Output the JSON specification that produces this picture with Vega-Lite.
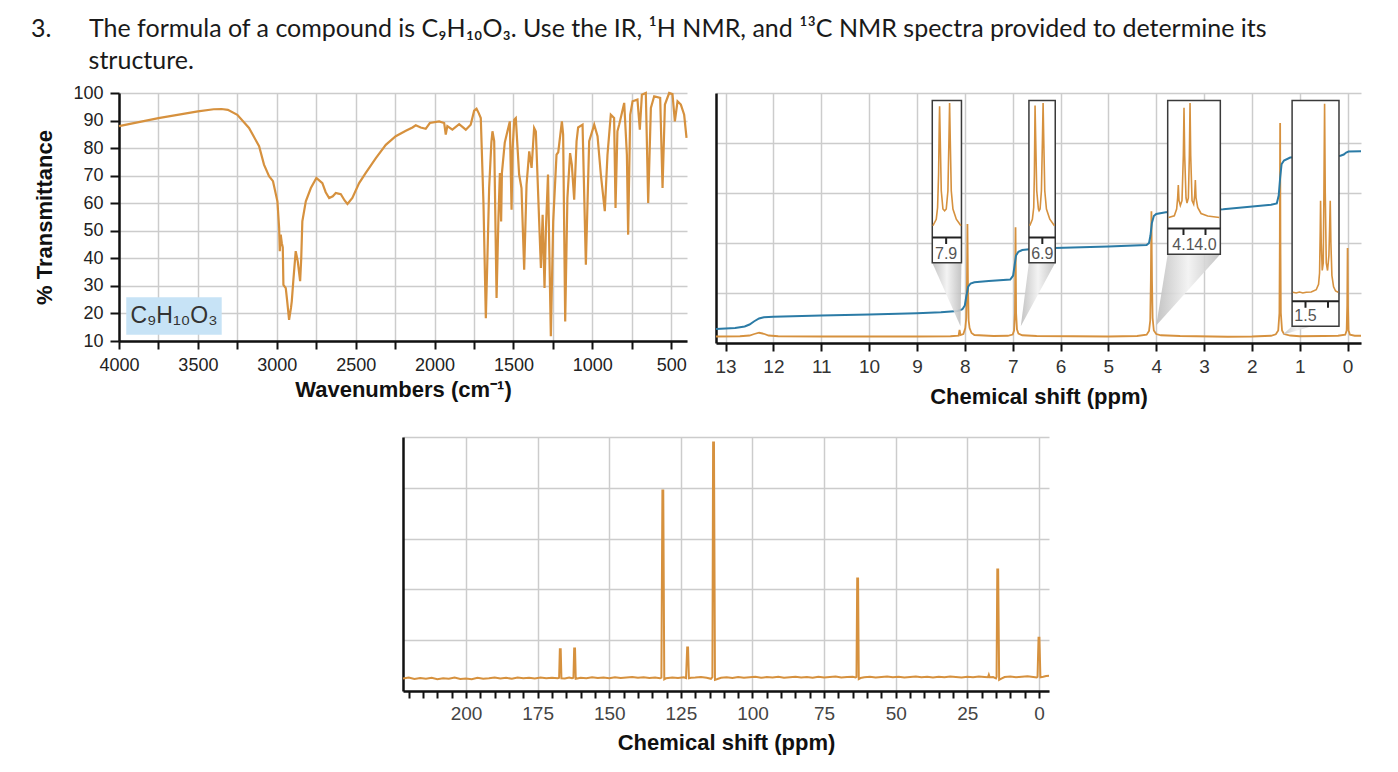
{
"$schema": "https://vega.github.io/schema/vega-lite/v6.json",
"background": "white",
"padding": {"left": 30, "top": 17, "right": 5, "bottom": 5},
"title": {"text": ["3.\u00a0\u00a0\u00a0\u00a0\u00a0\u00a0The formula of a compound is C₉H₁₀O₃. Use the IR, ¹H NMR, and ¹³C NMR spectra provided to determine its", "\u200b\u00a0\u00a0\u00a0\u00a0\u00a0\u00a0\u00a0\u00a0\u00a0structure."], "anchor": "start", "frame": "bounds", "font": "Lato", "fontSize": 25, "fontWeight": "normal", "color": "#1a1a1a", "lineHeight": 32, "offset": 10, "dx": -3},
"spacing": 30,
"datasets": {
"ir": [{"x":4000,"y":88},{"x":3750,"y":90.9},{"x":3500,"y":93.3},{"x":3400,"y":94.1},{"x":3350,"y":94.2},{"x":3310,"y":93.9},{"x":3250,"y":92.1},{"x":3176,"y":87.3},{"x":3112,"y":80.7},{"x":3081,"y":74},{"x":3049,"y":69.8},{"x":3024,"y":68},{"x":2996,"y":60.7},{"x":2985,"y":51},{"x":2981,"y":42.6},{"x":2975,"y":48.6},{"x":2968,"y":45.5},{"x":2962,"y":44},{"x":2958,"y":30.4},{"x":2943,"y":29.2},{"x":2935,"y":25},{"x":2922,"y":17.7},{"x":2910,"y":22},{"x":2905,"y":24.4},{"x":2895,"y":32},{"x":2880,"y":42.6},{"x":2867,"y":38.9},{"x":2852,"y":31.7},{"x":2845,"y":40},{"x":2838,"y":53.4},{"x":2816,"y":60.7},{"x":2784,"y":65.5},{"x":2749,"y":69.2},{"x":2735,"y":68.5},{"x":2711,"y":67.3},{"x":2690,"y":64},{"x":2668,"y":61.9},{"x":2645,"y":62.5},{"x":2626,"y":63.7},{"x":2610,"y":63.5},{"x":2594,"y":63.3},{"x":2570,"y":61},{"x":2552,"y":59.7},{"x":2521,"y":61.9},{"x":2478,"y":67.3},{"x":2436,"y":71},{"x":2372,"y":76.4},{"x":2309,"y":81.2},{"x":2246,"y":84.3},{"x":2182,"y":86.3},{"x":2140,"y":87.5},{"x":2119,"y":88.3},{"x":2088,"y":87.5},{"x":2056,"y":87},{"x":2030,"y":89.1},{"x":1971,"y":89.7},{"x":1939,"y":89.1},{"x":1929,"y":84.9},{"x":1919,"y":88},{"x":1887,"y":86.7},{"x":1844,"y":88.7},{"x":1802,"y":86.7},{"x":1771,"y":88.5},{"x":1749,"y":93.6},{"x":1734,"y":94.3},{"x":1720,"y":92.7},{"x":1707,"y":90.9},{"x":1690,"y":60},{"x":1675,"y":18.3},{"x":1665,"y":40},{"x":1654,"y":65.5},{"x":1640,"y":82},{"x":1633,"y":86.1},{"x":1622,"y":82.5},{"x":1607,"y":25.6},{"x":1595,"y":55},{"x":1586,"y":71},{"x":1578,"y":53.4},{"x":1573,"y":71},{"x":1555,"y":82},{"x":1538,"y":86.1},{"x":1523,"y":89.7},{"x":1512,"y":57.6},{"x":1505,"y":80},{"x":1495,"y":90.3},{"x":1485,"y":90.9},{"x":1464,"y":70.4},{"x":1449,"y":65.5},{"x":1432,"y":35.9},{"x":1417,"y":66.7},{"x":1400,"y":78.8},{"x":1385,"y":72.8},{"x":1369,"y":87.3},{"x":1358,"y":86},{"x":1337,"y":53.4},{"x":1326,"y":36.5},{"x":1315,"y":55.8},{"x":1303,"y":29.2},{"x":1294,"y":51},{"x":1281,"y":70.4},{"x":1263,"y":11.7},{"x":1248,"y":53.4},{"x":1227,"y":77.6},{"x":1216,"y":78.5},{"x":1193,"y":89.7},{"x":1185,"y":84.9},{"x":1172,"y":17.1},{"x":1158,"y":61.9},{"x":1141,"y":78.2},{"x":1130,"y":74},{"x":1115,"y":61.3},{"x":1100,"y":82.5},{"x":1090,"y":87.5},{"x":1062,"y":88.5},{"x":1041,"y":37.7},{"x":1020,"y":82.5},{"x":988,"y":88.5},{"x":967,"y":84.3},{"x":946,"y":70.4},{"x":921,"y":57.1},{"x":904,"y":77.6},{"x":883,"y":92.1},{"x":862,"y":90.9},{"x":853,"y":58.3},{"x":841,"y":86.1},{"x":830,"y":88.5},{"x":798,"y":96.4},{"x":781,"y":77.6},{"x":773,"y":48.6},{"x":760,"y":92.1},{"x":745,"y":97},{"x":714,"y":97.6},{"x":699,"y":86.7},{"x":686,"y":99.4},{"x":661,"y":100},{"x":646,"y":60.1},{"x":629,"y":94.6},{"x":608,"y":98.8},{"x":570,"y":98.2},{"x":555,"y":65.5},{"x":540,"y":95.8},{"x":513,"y":100},{"x":492,"y":99.6},{"x":477,"y":89.7},{"x":460,"y":97},{"x":439,"y":95.8},{"x":418,"y":92.1},{"x":403,"y":83.7}],
"ir_box": [{"x":3954,"x2":3349,"y":12.3,"y2":25.9}],
"ir_lab": [{"x":3651,"y":19.1,"t":"C₉H₁₀O₃"}],
"h_spec": [{"x":13.2,"y":2.6},{"x":12.7,"y":2.7},{"x":12.5,"y":3.0},{"x":12.4,"y":3.6},{"x":12.3,"y":4.1},{"x":12.2,"y":3.7},{"x":12.1,"y":3.0},{"x":11.9,"y":2.7},{"x":11,"y":2.6},{"x":10,"y":2.6},{"x":9,"y":2.6},{"x":8.3,"y":2.7},{"x":8.13,"y":2.9},{"x":8.11,"y":5.2},{"x":8.09,"y":3.2},{"x":8.03,"y":3.6},{"x":7.99,"y":6},{"x":7.97,"y":10},{"x":7.955,"y":25},{"x":7.945,"y":47.6},{"x":7.935,"y":25},{"x":7.92,"y":9},{"x":7.9,"y":6},{"x":7.86,"y":4},{"x":7.8,"y":3.2},{"x":7.4,"y":2.8},{"x":7.1,"y":2.9},{"x":7.0,"y":3.4},{"x":6.97,"y":5},{"x":6.952,"y":12},{"x":6.94,"y":46.3},{"x":6.928,"y":12},{"x":6.91,"y":5.5},{"x":6.88,"y":3.8},{"x":6.8,"y":3.1},{"x":6.5,"y":2.8},{"x":5,"y":2.6},{"x":4.4,"y":2.8},{"x":4.2,"y":3.3},{"x":4.15,"y":4.8},{"x":4.125,"y":9},{"x":4.112,"y":25},{"x":4.1,"y":52.7},{"x":4.088,"y":25},{"x":4.075,"y":10},{"x":4.05,"y":5},{"x":4.0,"y":3.6},{"x":3.9,"y":3.1},{"x":3.5,"y":2.8},{"x":2.5,"y":2.5},{"x":2,"y":2.6},{"x":1.6,"y":2.9},{"x":1.5,"y":3.5},{"x":1.45,"y":5},{"x":1.425,"y":12},{"x":1.417,"y":40},{"x":1.41,"y":88},{"x":1.403,"y":40},{"x":1.395,"y":12},{"x":1.37,"y":5},{"x":1.33,"y":3.6},{"x":1.2,"y":3.0},{"x":1.0,"y":2.7},{"x":0.5,"y":2.8},{"x":0.2,"y":2.9},{"x":0.05,"y":3.3},{"x":0.02,"y":5},{"x":0.008,"y":15},{"x":0,"y":38},{"x":-0.008,"y":15},{"x":-0.02,"y":5},{"x":-0.05,"y":3.3},{"x":-0.15,"y":2.9},{"x":-0.28,"y":2.9}],
"h_int": [{"x":13.2,"y":5.6},{"x":12.8,"y":6.0},{"x":12.6,"y":6.6},{"x":12.5,"y":7.4},{"x":12.4,"y":8.7},{"x":12.3,"y":9.8},{"x":12.2,"y":10.3},{"x":12.0,"y":10.5},{"x":11,"y":11.0},{"x":10,"y":11.4},{"x":9,"y":11.9},{"x":8.5,"y":12.3},{"x":8.15,"y":12.8},{"x":8.05,"y":13.5},{"x":8.0,"y":15},{"x":7.97,"y":18.5},{"x":7.93,"y":22.5},{"x":7.88,"y":23.8},{"x":7.8,"y":24.3},{"x":7.5,"y":24.8},{"x":7.05,"y":25.4},{"x":6.99,"y":27},{"x":6.96,"y":31},{"x":6.93,"y":35},{"x":6.88,"y":36.5},{"x":6.8,"y":37.2},{"x":6.5,"y":37.8},{"x":5,"y":38.6},{"x":4.2,"y":39.2},{"x":4.15,"y":40},{"x":4.12,"y":43},{"x":4.09,"y":48},{"x":4.05,"y":50.8},{"x":4.0,"y":51.6},{"x":3.8,"y":52.3},{"x":2.6,"y":53.5},{"x":1.6,"y":55.3},{"x":1.48,"y":55.8},{"x":1.44,"y":59},{"x":1.41,"y":66},{"x":1.38,"y":71.5},{"x":1.33,"y":73},{"x":1.2,"y":74.2},{"x":0.6,"y":74.6},{"x":0.15,"y":74.9},{"x":0.08,"y":75.4},{"x":0.03,"y":76.2},{"x":-0.02,"y":76.6},{"x":-0.28,"y":76.7}],
"h_cone": [{"g":1,"x":8.68,"y":32.1,"y2":32.1},{"g":1,"x":8.09,"y":32.1,"y2":6.7},{"g":1,"x":8.07,"y":32.1,"y2":32.1},{"g":2,"x":6.83,"y":6.7,"y2":6.7},{"g":2,"x":6.66,"y":32.1,"y2":12.7},{"g":2,"x":6.11,"y":32.1,"y2":32.1},{"g":3,"x":4.0,"y":7,"y2":7},{"g":3,"x":3.76,"y":35.5,"y2":12.1},{"g":3,"x":2.66,"y":35.5,"y2":35.5},{"g":4,"x":1.36,"y":3.3,"y2":3.3},{"g":4,"x":1.16,"y":6.7,"y2":4.4},{"g":4,"x":0.75,"y":6.7,"y2":6.7}],
"h_box": [{"x":8.68,"x2":8.07,"y":32.1,"y2":97},{"x":6.66,"x2":6.11,"y":32.1,"y2":97},{"x":3.76,"x2":2.66,"y":35.5,"y2":97},{"x":1.16,"x2":0.18,"y":6.7,"y2":97}],
"h_axis": [{"x":8.68,"x2":8.07,"y":42.2},{"x":6.66,"x2":6.11,"y":42.2},{"x":3.76,"x2":2.66,"y":45.8},{"x":1.16,"x2":0.18,"y":16.7}],
"h_tick": [{"x":8.39,"y":42.2,"y2":39.6},{"x":6.38,"y":42.2,"y2":39.6},{"x":3.43,"y":45.8,"y2":43.2},{"x":2.97,"y":45.8,"y2":43.2},{"x":0.88,"y":16.7,"y2":14.1},{"x":0.41,"y":16.7,"y2":14.1}],
"h_inset": [{"g":1,"x":8.667,"y":46.9},{"g":1,"x":8.597,"y":49.5},{"g":1,"x":8.569,"y":54.2},{"g":1,"x":8.548,"y":67.6},{"g":1,"x":8.534,"y":87.7},{"g":1,"x":8.527,"y":94.7},{"g":1,"x":8.513,"y":81},{"g":1,"x":8.492,"y":60.9},{"g":1,"x":8.457,"y":53.6},{"g":1,"x":8.422,"y":52.9},{"g":1,"x":8.388,"y":53.6},{"g":1,"x":8.353,"y":60.9},{"g":1,"x":8.332,"y":81},{"g":1,"x":8.318,"y":96},{"g":1,"x":8.304,"y":81},{"g":1,"x":8.283,"y":60.9},{"g":1,"x":8.248,"y":53.6},{"g":1,"x":8.178,"y":49.5},{"g":1,"x":8.081,"y":46.9},
{"g":2,"x":6.643,"y":46.9},{"g":2,"x":6.588,"y":49.5},{"g":2,"x":6.560,"y":54.2},{"g":2,"x":6.546,"y":67.6},{"g":2,"x":6.532,"y":95},{"g":2,"x":6.518,"y":81},{"g":2,"x":6.497,"y":60.9},{"g":2,"x":6.462,"y":53.6},{"g":2,"x":6.448,"y":52.9},{"g":2,"x":6.427,"y":53.6},{"g":2,"x":6.399,"y":60.9},{"g":2,"x":6.378,"y":81},{"g":2,"x":6.364,"y":96},{"g":2,"x":6.350,"y":81},{"g":2,"x":6.329,"y":60.9},{"g":2,"x":6.294,"y":53.6},{"g":2,"x":6.224,"y":49.5},{"g":2,"x":6.127,"y":46.9},
{"g":3,"x":3.741,"y":50.2},{"g":3,"x":3.622,"y":50.9},{"g":3,"x":3.573,"y":53.6},{"g":3,"x":3.552,"y":58},{"g":3,"x":3.538,"y":63.2},{"g":3,"x":3.524,"y":57},{"g":3,"x":3.496,"y":55},{"g":3,"x":3.461,"y":57},{"g":3,"x":3.433,"y":75},{"g":3,"x":3.419,"y":94.1},{"g":3,"x":3.405,"y":75},{"g":3,"x":3.377,"y":58},{"g":3,"x":3.356,"y":56},{"g":3,"x":3.328,"y":58},{"g":3,"x":3.307,"y":75},{"g":3,"x":3.293,"y":96},{"g":3,"x":3.279,"y":75},{"g":3,"x":3.251,"y":57},{"g":3,"x":3.217,"y":55.5},{"g":3,"x":3.196,"y":59},{"g":3,"x":3.182,"y":65.2},{"g":3,"x":3.168,"y":58},{"g":3,"x":3.133,"y":54.2},{"g":3,"x":3.063,"y":51.8},{"g":3,"x":2.924,"y":50.8},{"g":3,"x":2.680,"y":50.2},
{"g":4,"x":1.145,"y":20.3},{"g":4,"x":1.074,"y":20.0},{"g":4,"x":1.005,"y":20.4},{"g":4,"x":0.936,"y":20.0},{"g":4,"x":0.865,"y":20.3},{"g":4,"x":0.760,"y":20.4},{"g":4,"x":0.656,"y":21.3},{"g":4,"x":0.607,"y":23.5},{"g":4,"x":0.586,"y":28},{"g":4,"x":0.572,"y":45},{"g":4,"x":0.565,"y":56.9},{"g":4,"x":0.551,"y":40},{"g":4,"x":0.530,"y":29},{"g":4,"x":0.509,"y":32},{"g":4,"x":0.495,"y":60},{"g":4,"x":0.481,"y":95.7},{"g":4,"x":0.467,"y":60},{"g":4,"x":0.446,"y":32},{"g":4,"x":0.419,"y":29},{"g":4,"x":0.391,"y":35},{"g":4,"x":0.377,"y":45},{"g":4,"x":0.363,"y":56.9},{"g":4,"x":0.349,"y":40},{"g":4,"x":0.328,"y":27},{"g":4,"x":0.293,"y":22.5},{"g":4,"x":0.251,"y":20.8},{"g":4,"x":0.195,"y":20.3}],
"h_lab": [{"x":8.39,"y":35.6,"t":"7.9"},{"x":6.38,"y":35.6,"t":"6.9"},{"x":3.43,"y":39.4,"t":"4.1"},{"x":2.97,"y":39.4,"t":"4.0"},{"x":0.88,"y":11.0,"t":"1.5"}],
"c13": [{"x":222,"y":4.9},{"x":220,"y":5.3},{"x":218,"y":4.7},{"x":216,"y":5.1},{"x":214,"y":4.8},{"x":212,"y":5.2},{"x":210,"y":4.6},{"x":208,"y":5.0},{"x":206,"y":4.8},{"x":204,"y":5.3},{"x":202,"y":4.7},{"x":200,"y":4.9},{"x":198,"y":4.6},{"x":196,"y":5.2},{"x":194,"y":4.8},{"x":192,"y":5.0},{"x":190,"y":5.3},{"x":188,"y":4.9},{"x":186,"y":5.2},{"x":184,"y":4.8},{"x":182,"y":5.3},{"x":180,"y":5.0},{"x":178,"y":5.2},{"x":176,"y":4.9},{"x":174,"y":5.3},{"x":172,"y":5.0},{"x":170,"y":5.2},{"x":168,"y":5.0},{"x":167.5,"y":5.2},{"x":167.25,"y":16.4},{"x":166.95,"y":16.4},{"x":166.7,"y":5.0},{"x":165.5,"y":4.9},{"x":164,"y":5.3},{"x":163,"y":5.0},{"x":162.5,"y":5.2},{"x":162.25,"y":16.7},{"x":161.95,"y":16.7},{"x":161.7,"y":4.8},{"x":160,"y":5.2},{"x":158,"y":5.0},{"x":156,"y":5.4},{"x":154,"y":5.1},{"x":152,"y":5.3},{"x":150,"y":5.0},{"x":148,"y":5.4},{"x":146,"y":5.1},{"x":144,"y":5.3},{"x":142,"y":5.5},{"x":140,"y":5.2},{"x":138,"y":5.4},{"x":136,"y":5.1},{"x":134,"y":5.3},{"x":132.3,"y":5.0},{"x":131.8,"y":5.3},{"x":131.45,"y":78.9},{"x":131.15,"y":78.9},{"x":130.8,"y":4.6},{"x":130.2,"y":5.0},{"x":128,"y":5.3},{"x":126,"y":5.1},{"x":124,"y":5.4},{"x":123.2,"y":5.1},{"x":122.8,"y":17.1},{"x":122.5,"y":17.1},{"x":122.2,"y":5.0},{"x":121.5,"y":5.2},{"x":120,"y":5.3},{"x":118,"y":5.5},{"x":116,"y":5.2},{"x":114.5,"y":4.8},{"x":114.0,"y":5.5},{"x":113.75,"y":97.8},{"x":113.45,"y":97.8},{"x":113.1,"y":4.4},{"x":112.5,"y":4.6},{"x":111,"y":5.2},{"x":109,"y":5.4},{"x":107,"y":5.1},{"x":105,"y":5.5},{"x":103,"y":5.2},{"x":101,"y":5.4},{"x":99,"y":5.6},{"x":97,"y":5.2},{"x":95,"y":5.5},{"x":93,"y":5.3},{"x":91,"y":5.6},{"x":89,"y":5.2},{"x":87,"y":5.4},{"x":85,"y":5.6},{"x":83,"y":5.3},{"x":81,"y":5.5},{"x":79,"y":5.2},{"x":77,"y":5.6},{"x":75,"y":5.3},{"x":73,"y":5.5},{"x":71,"y":5.7},{"x":69,"y":5.3},{"x":67,"y":5.5},{"x":65,"y":5.6},{"x":64,"y":5.3},{"x":63.7,"y":5.5},{"x":63.45,"y":44.3},{"x":63.15,"y":44.3},{"x":62.9,"y":4.7},{"x":62.3,"y":5.1},{"x":61,"y":5.4},{"x":59,"y":5.6},{"x":57,"y":5.3},{"x":55,"y":5.5},{"x":53,"y":5.7},{"x":51,"y":5.4},{"x":49,"y":5.6},{"x":47,"y":5.3},{"x":45,"y":5.5},{"x":43,"y":5.7},{"x":41,"y":5.4},{"x":39,"y":5.6},{"x":37,"y":5.3},{"x":35,"y":5.6},{"x":33,"y":5.4},{"x":31,"y":5.7},{"x":29,"y":5.5},{"x":27,"y":5.3},{"x":25,"y":5.6},{"x":23,"y":5.4},{"x":21,"y":5.7},{"x":19,"y":5.5},{"x":17.8,"y":5.4},{"x":17.5,"y":6.4},{"x":17.2,"y":5.4},{"x":16,"y":5.5},{"x":15,"y":5.0},{"x":14.8,"y":5.6},{"x":14.55,"y":47.8},{"x":14.25,"y":47.8},{"x":13.9,"y":4.4},{"x":13.3,"y":4.8},{"x":12,"y":5.5},{"x":10,"y":5.7},{"x":8,"y":5.4},{"x":6,"y":5.6},{"x":4,"y":5.8},{"x":2,"y":5.5},{"x":0.8,"y":5.3},{"x":0.5,"y":5.6},{"x":0.15,"y":21},{"x":-0.15,"y":21},{"x":-0.5,"y":5.4},{"x":-1.5,"y":5.6},{"x":-2.5,"y":5.9},{"x":-3.5,"y":6.0}]
},
"vconcat": [
{"bounds": "flush", "spacing": 29, "hconcat": [
 {"width": 568, "height": 248,
  "encoding": {
   "x": {"field": "x", "type": "quantitative", "scale": {"domain": [400, 4000], "reverse": true, "nice": false, "zero": false},
    "axis": {"title": "Wavenumbers (cm⁻¹)", "values": [4000,3750,3500,3250,3000,2750,2500,2250,2000,1750,1500,1250,1000,750,500], "format": "d", "labelExpr": "datum.value % 500 === 0 ? datum.label : ''", "tickSize": 8, "labelPadding": 7, "titlePadding": 5, "labelFontSize": 18}},
   "y": {"field": "y", "type": "quantitative", "scale": {"domain": [10, 100], "nice": false, "zero": false},
    "axis": {"title": "% Transmittance", "values": [10,20,30,40,50,60,70,80,90,100], "tickSize": 9, "labelPadding": 7, "titlePadding": 16, "labelFontSize": 18}}
  },
  "layer": [
   {"data": {"name": "ir_box"}, "mark": {"type": "rect", "color": "#c7e3f6"}, "encoding": {"x2": {"field": "x2"}, "y2": {"field": "y2"}}},
   {"data": {"name": "ir"}, "mark": {"type": "line", "color": "#d6913e", "strokeWidth": 2.2}, "encoding": {}},
   {"data": {"name": "ir_lab"}, "mark": {"type": "text", "fontSize": 23, "color": "#333333", "font": "Liberation Sans"}, "encoding": {"text": {"field": "t"}}}
  ]
 },
 {"width": 645, "height": 250,
  "encoding": {
   "x": {"field": "x", "type": "quantitative", "scale": {"domain": [-0.28, 13.2], "reverse": true, "nice": false, "zero": false},
    "axis": {"title": "Chemical shift (ppm)", "values": [0,1,2,3,4,5,6,7,8,9,10,11,12,13], "format": "d", "tickSize": 8, "labelPadding": 6, "titlePadding": 10, "labelFontSize": 19, "labelColor": "#333333"}},
   "y": {"field": "y", "type": "quantitative", "scale": {"domain": [0, 100], "nice": false, "zero": false},
    "axis": {"title": null, "values": [0,20,40,60,80,100], "labels": false, "ticks": false}}
  },
  "layer": [
   {"data": {"name": "h_spec"}, "mark": {"type": "line", "color": "#d6913e", "strokeWidth": 1.8}, "encoding": {}},
   {"data": {"name": "h_int"}, "mark": {"type": "line", "color": "#2b7ba6", "strokeWidth": 2}, "encoding": {}},
   {"data": {"name": "h_cone"}, "mark": {"type": "area", "opacity": 0.9, "color": {"gradient": "linear", "x1": 0, "y1": 0, "x2": 1, "y2": 0, "stops": [{"offset": 0, "color": "#bdbdbd"}, {"offset": 0.5, "color": "#f2f2f2"}, {"offset": 1, "color": "#bdbdbd"}]}}, "encoding": {"y2": {"field": "y2"}, "detail": {"field": "g"}}},
   {"data": {"name": "h_box"}, "mark": {"type": "rect", "fill": "white", "stroke": "#3a3a3a", "strokeWidth": 1.5}, "encoding": {"x2": {"field": "x2"}, "y2": {"field": "y2"}}},
   {"data": {"name": "h_axis"}, "mark": {"type": "rule", "color": "#222222", "strokeWidth": 2}, "encoding": {"x2": {"field": "x2"}}},
   {"data": {"name": "h_tick"}, "mark": {"type": "rule", "color": "#222222", "strokeWidth": 2}, "encoding": {"y2": {"field": "y2"}}},
   {"data": {"name": "h_inset"}, "mark": {"type": "line", "color": "#d6913e", "strokeWidth": 1.6}, "encoding": {"detail": {"field": "g"}}},
   {"data": {"name": "h_lab"}, "mark": {"type": "text", "fontSize": 16, "color": "#555555", "font": "Liberation Sans"}, "encoding": {"text": {"field": "t"}}}
  ]
 }
]},
{"bounds": "flush", "spacing": 0, "hconcat": [
 {"width": 284, "height": 254, "data": {"values": []}, "mark": {"type": "point", "opacity": 0}},
 {"width": 646, "height": 254,
  "data": {"name": "c13"},
  "mark": {"type": "line", "color": "#d6913e", "strokeWidth": 2},
  "encoding": {
   "x": {"field": "x", "type": "quantitative", "scale": {"domain": [-3.5, 222], "reverse": true, "nice": false, "zero": false},
    "axis": {"title": "Chemical shift (ppm)", "values": [0,5,10,15,20,25,30,35,40,45,50,55,60,65,70,75,80,85,90,95,100,105,110,115,120,125,130,135,140,145,150,155,160,165,170,175,180,185,190,195,200,205,210,215,220], "format": "d", "labelExpr": "datum.value % 25 === 0 ? datum.label : ''", "gridOpacity": {"condition": {"test": "datum.value % 25 === 0", "value": 1}, "value": 0}, "tickSize": 7, "labelPadding": 6, "titlePadding": 9, "labelFontSize": 19, "labelColor": "#444444"}},
   "y": {"field": "y", "type": "quantitative", "scale": {"domain": [0, 100], "nice": false, "zero": false},
    "axis": {"title": null, "values": [0,20,40,60,80,100], "labels": false, "ticks": false}}
  }
 }
]}
],
"config": {
 "view": {"stroke": null},
 "font": "Liberation Sans",
 "axis": {"labelFlush": false, "labelOverlap": false, "domainColor": "#111111", "domainWidth": 2.5, "tickColor": "#111111", "tickWidth": 2, "gridColor": "#cccccc", "gridWidth": 1.5, "labelFont": "Liberation Sans", "labelColor": "#222222", "titleFont": "Liberation Sans", "titleFontWeight": "bold", "titleFontSize": 22, "titleColor": "#111111"}
}
}
